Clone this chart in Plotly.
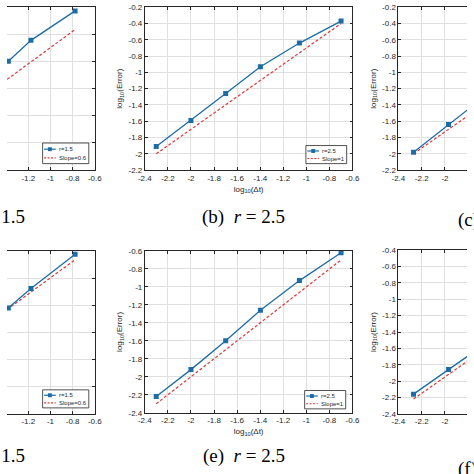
import plotly.graph_objects as go

W = H = 474

# ---------------- data ----------------
# panel (a) r = 1.5
a_x = [-1.380, -1.176, -0.778]
a_y = [-0.598, -0.444, -0.227]
a_slope_x = [-1.50, -0.778]
a_slope_y = [-0.797, -0.364]
# panel (b) r = 2.5
b_x = [-2.301, -2.000, -1.699, -1.398, -1.060, -0.699]
b_y = [-1.91, -1.59, -1.26, -0.93, -0.64, -0.37]
b_slope_x = [-2.301, -0.699]
b_slope_y = [-2.00, -0.40]
# panel (c)
c_x = [-2.27, -1.97, -1.67, -1.37, -1.07, -0.77]
c_y = [-1.98, -1.64, -1.30, -0.97, -0.66, -0.36]
c_slope_x = [-2.27, -0.77]
c_slope_y = [-2.00, -0.50]
# panel (d) r = 1.5
d_x = [-1.380, -1.176, -0.778]
d_y = [-0.621, -0.477, -0.224]
d_slope_x = [-1.50, -0.778]
d_slope_y = [-0.698, -0.265]
# panel (e) r = 2.5
e_x = [-2.301, -2.000, -1.699, -1.398, -1.060, -0.699]
e_y = [-2.22, -1.92, -1.60, -1.26, -0.93, -0.62]
e_slope_x = [-2.301, -0.699]
e_slope_y = [-2.30, -0.70]
# panel (f)
f_x = [-2.27, -1.97, -1.67, -1.37, -1.07, -0.77]
f_y = [-2.16, -1.86, -1.57, -1.26, -0.95, -0.64]
f_slope_x = [-2.27, -0.77]
f_slope_y = [-2.22, -0.72]

xticks_left = [-1.4, -1.2, -1.0, -0.8, -0.6]
xticks_mid = [-2.4, -2.2, -2.0, -1.8, -1.6, -1.4, -1.2, -1.0, -0.8, -0.6]
xticks_right = [-2.4, -2.2, -2.0, -1.8]
yticks_a = [-1.4, -1.2, -1.0, -0.8, -0.6, -0.4, -0.2]
yticks_top = [-2.2, -2.0, -1.8, -1.6, -1.4, -1.2, -1.0, -0.8, -0.6, -0.4, -0.2]
yticks_e = [-2.4, -2.2, -2.0, -1.8, -1.6, -1.4, -1.2, -1.0, -0.8, -0.6]
yticks_f = [-2.4, -2.2, -2.0, -1.8, -1.6, -1.4, -1.2, -1.0, -0.8, -0.6, -0.4]

series_names = ["r=1.5", "r=2.5", "r=3.5"]
slope_names = ["Slope=0.6", "Slope=1", "Slope=1"]
captions = ["(a)  <i>r</i> = 1.5", "(b)  <i>r</i> = 2.5", "(c)  <i>r</i> = 3.5",
            "(d)  <i>r</i> = 1.5", "(e)  <i>r</i> = 2.5", "(f)  <i>r</i> = 3.5"]

BLUE = "#1c6ca6"
RED = "#de3a3a"
DARK = "#262626"
GRID = "#e0e0e0"
SANS = "Liberation Sans, Arial, sans-serif"
SERIF = "Liberation Serif, Times New Roman, serif"


def lab(v):
    return "%g" % v


def px(x):
    return x / W


def py(y):
    return 1 - y / H


fig = go.Figure()

panels = [
    (a_x, a_y, a_slope_x, a_slope_y),
    (b_x, b_y, b_slope_x, b_slope_y),
    (c_x, c_y, c_slope_x, c_slope_y),
    (d_x, d_y, d_slope_x, d_slope_y),
    (e_x, e_y, e_slope_x, e_slope_y),
    (f_x, f_y, f_slope_x, f_slope_y),
]
for i, (xs, ys, sx, sy) in enumerate(panels):
    n = "" if i == 0 else str(i + 1)
    fig.add_trace(go.Scatter(x=sx, y=sy, mode="lines", xaxis="x" + n, yaxis="y" + n,
                             line=dict(color=RED, width=1.2, dash="3px,2px"),
                             showlegend=False, hoverinfo="skip"))
    fig.add_trace(go.Scatter(x=xs, y=ys, mode="lines+markers", xaxis="x" + n, yaxis="y" + n,
                             line=dict(color=BLUE, width=1.3),
                             marker=dict(symbol="square", size=5, color=BLUE),
                             showlegend=False))

common = dict(showline=True, linecolor=DARK, linewidth=0.8, ticks="inside", ticklen=3,
              tickcolor=DARK, tickwidth=0.8,
              tickfont=dict(family=SANS, size=8, color=DARK),
              showgrid=True, gridcolor=GRID, gridwidth=0.8, zeroline=False)

xtitle = dict(text="log<sub>10</sub>(\u0394t)", font=dict(family=SANS, size=8, color=DARK), standoff=4)
ytitle = dict(text="log<sub>10</sub>(Error)", font=dict(family=SANS, size=8, color=DARK), standoff=4)


def xa(dom, rng, ticks, anchor, title=None):
    d = dict(common, domain=[px(dom[0]), px(dom[1])], range=rng, tickmode="array",
             tickvals=ticks, ticktext=[lab(t) for t in ticks], anchor=anchor, mirror="ticks")
    if title:
        d["title"] = title
    return d


def ya(dom, rng, ticks, anchor, side="left", labels=True, title=None, mirror=True):
    d = dict(common, domain=[py(dom[1]), py(dom[0])], range=rng, tickmode="array",
             tickvals=ticks, ticktext=[lab(t) for t in ticks], anchor=anchor, side=side,
             showticklabels=labels)
    if mirror:
        d["mirror"] = "ticks"
    if title:
        d["title"] = title
    return d


LX = (0, 90.5)
MX = (142, 356)
RX = (403.3, 474)
TOPY = (3.3, 169.3)

layout = dict(
    width=W, height=H, margin=dict(l=0, r=0, t=0, b=0),
    paper_bgcolor="white", plot_bgcolor="white", showlegend=False,
    xaxis=xa(LX, [-1.392, -0.6], xticks_left, "y"),
    yaxis=ya(TOPY, [-1.4, -0.2], yticks_a, "x", side="right", labels=False, mirror=False),
    xaxis2=xa(MX, [-2.4, -0.6], xticks_mid, "y2", title=xtitle),
    yaxis2=ya(TOPY, [-2.2, -0.2], yticks_top, "x2", title=ytitle),
    xaxis3=xa(RX, [-2.4, -1.811], xticks_right, "y3"),
    yaxis3=ya(TOPY, [-2.2, -0.2], yticks_top, "x3", title=ytitle, mirror=False),
    xaxis4=xa(LX, [-1.392, -0.6], xticks_left, "y4"),
    yaxis4=ya((251.7, 417.5), [-1.4, -0.2], yticks_a, "x4", side="right", labels=False, mirror=False),
    xaxis5=xa(MX, [-2.4, -0.6], xticks_mid, "y5", title=xtitle),
    yaxis5=ya((251.7, 416.7), [-2.4, -0.6], yticks_e, "x5", title=ytitle),
    xaxis6=xa(RX, [-2.4, -1.811], xticks_right, "y6"),
    yaxis6=ya((251, 417.7), [-2.4, -0.4], yticks_f, "x6", title=ytitle, mirror=False),
)
fig.update_layout(**layout)

# ---------------- legends (drawn as boxes) ----------------
shapes = []
annotations = []
legend_boxes = [
    (36.7, 84.3, 141.7, 162.7, 0),
    (308.0, 350.0, 144.3, 162.7, 1),
    (36.7, 84.3, 393.3, 411.7, 0),
    (306.7, 349.0, 394.0, 412.7, 1),
]
for (x0, x1, y0, y1, k) in legend_boxes:
    shapes.append(dict(type="rect", xref="paper", yref="paper", x0=px(x0), x1=px(x1),
                       y0=py(y1), y1=py(y0), line=dict(color=DARK, width=0.8), fillcolor="white",
                       layer="above"))
    r1 = y0 + (y1 - y0) * 0.30
    r2 = y0 + (y1 - y0) * 0.72
    lx0, lx1 = x0 + 1.5, x0 + 13.5
    shapes.append(dict(type="line", xref="paper", yref="paper", x0=px(lx0), x1=px(lx1),
                       y0=py(r1), y1=py(r1), line=dict(color=BLUE, width=1.2), layer="above"))
    mx = (lx0 + lx1) / 2
    shapes.append(dict(type="rect", xref="paper", yref="paper", x0=px(mx - 2), x1=px(mx + 2),
                       y0=py(r1 + 2), y1=py(r1 - 2), line=dict(color=BLUE, width=0),
                       fillcolor=BLUE, layer="above"))
    shapes.append(dict(type="line", xref="paper", yref="paper", x0=px(lx0), x1=px(lx1),
                       y0=py(r2), y1=py(r2), line=dict(color=RED, width=1.1, dash="2px,1.5px"),
                       layer="above"))
    for txt, yy in ((series_names[k], r1), (slope_names[k], r2)):
        annotations.append(dict(xref="paper", yref="paper", x=px(lx1 + 1), y=py(yy),
                                xanchor="left", yanchor="middle", text=txt, showarrow=False,
                                font=dict(family=SANS, size=6, color=DARK)))

# ---------------- captions ----------------
cap_pos = [
    (21, 217, "right"), (244, 217, "center"), (463, 220, "left"),
    (21, 461, "right"), (244, 461, "center"), (463, 474, "left"),
]
for txt, (cx, cy, anc) in zip(captions, cap_pos):
    annotations.append(dict(xref="paper", yref="paper", x=px(cx), y=py(cy), xanchor=anc,
                            yanchor="middle", text=txt, showarrow=False,
                            font=dict(family=SERIF, size=19, color="black")))

fig.update_layout(shapes=shapes, annotations=annotations)
fig.write_html("out.html")
